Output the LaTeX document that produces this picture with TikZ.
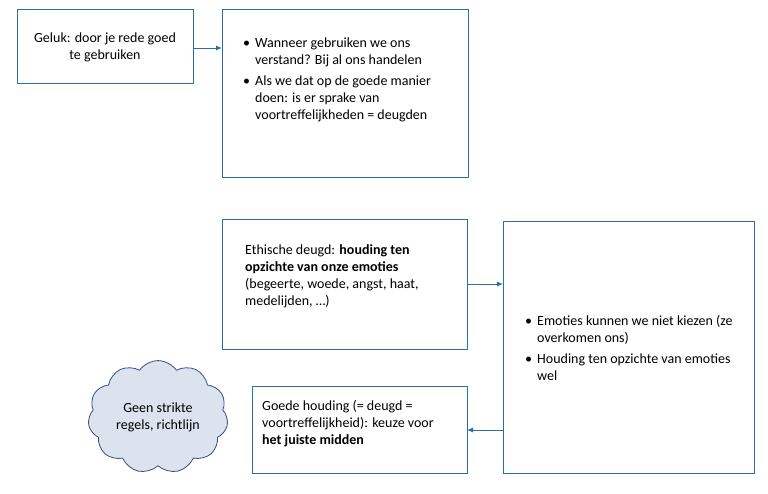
\documentclass[tikz,border=0pt]{standalone}
\usepackage{fontspec}
\setmainfont{Carlito}
\usetikzlibrary{shapes.symbols,arrows.meta}
\definecolor{bl}{HTML}{2C6FA6}
\definecolor{cl}{HTML}{DCE2EE}
\definecolor{cb}{HTML}{3A4F7A}
\begin{document}
\begin{tikzpicture}[x=1pt,y=-1pt,
  box/.style={draw=bl,line width=1pt},
  txt/.style={font=\fontsize{14}{17}\selectfont,align=left,anchor=north west,inner sep=0pt},
  arr/.style={-{Latex[length=6pt,width=5pt]},draw=bl,line width=0.9pt}]
\useasboundingbox (0,0) rectangle (768,494);
\draw[box] (17,10) rectangle (193,84);
\node[font=\fontsize{14}{17}\selectfont,align=center] (t1) at (105,47) {Geluk: door je rede goed\\te gebruiken};
\draw[box] (222,10) rectangle (468,178);
\node[txt] (t2) at (230,38) {%
\begin{minipage}{230pt}\raggedright
\begin{itemize}\setlength{\itemsep}{0pt}\setlength{\parsep}{0pt}\setlength{\leftmargin}{18pt}\setlength{\topsep}{0pt}
\item Wanneer gebruiken we ons verstand? Bij al ons handelen
\item Als we dat op de goede manier doen: is er sprake van voortreffelijkheden = deugden
\end{itemize}\end{minipage}};
\draw[box] (222,220) rectangle (467,349);
\node[txt] (t3) at (245,244) {Ethische deugd: \textbf{houding ten}\\\textbf{opzichte van onze emoties}\\(begeerte, woede, angst, haat,\\medelijden, …)};
\draw[box] (503,222) rectangle (754,473);
\node[txt] (t4) at (512,315) {%
\begin{minipage}{235pt}\raggedright
\begin{itemize}\setlength{\itemsep}{0pt}\setlength{\parsep}{0pt}\setlength{\topsep}{0pt}
\item Emoties kunnen we niet kiezen (ze overkomen ons)
\item Houding ten opzichte van emoties wel
\end{itemize}\end{minipage}};
\draw[box] (252,386) rectangle (467,473);
\node[txt] (t5) at (262,400) {Goede houding (= deugd =\\voortreffelijkheid): keuze voor\\\textbf{het juiste midden}};
\node[cloud,cloud puffs=11,cloud puff arc=110,aspect=1.3,draw=cb,fill=cl,line width=0.8pt,minimum width=140pt,minimum height=112pt,font=\fontsize{14}{17}\selectfont,align=center] (c) at (158,417) {Geen strikte\\regels, richtlijn};
\draw[arr] (193,48) -- (222,48);
\draw[arr] (467,284) -- (503,284);
\draw[arr] (503,430) -- (467,430);
\end{tikzpicture}
\end{document}
